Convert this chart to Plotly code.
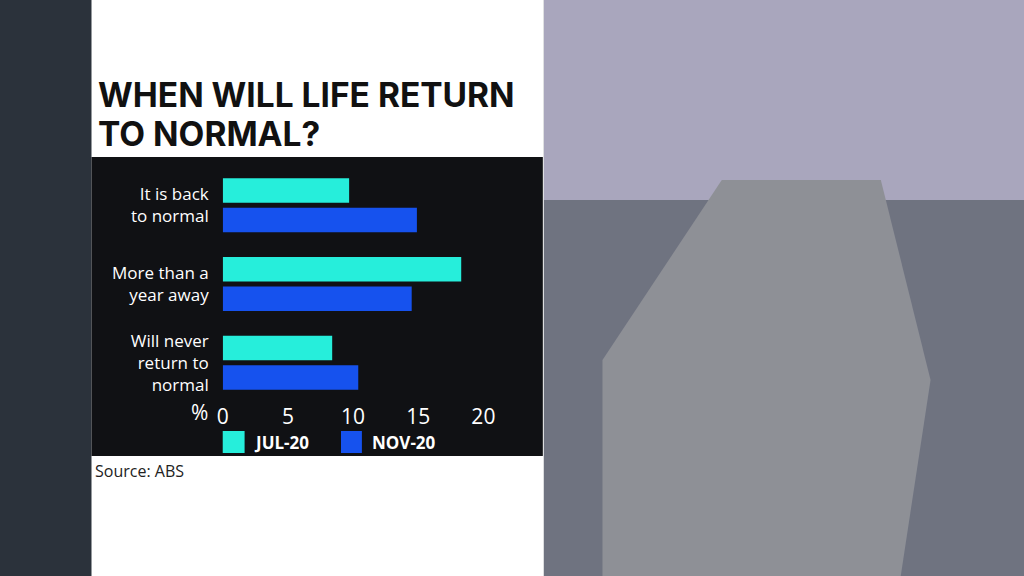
import plotly.graph_objects as go

categories = ["It is back<br>to normal", "More than a<br>year away", "Will never<br>return to<br>normal"]
jul20 = [9.7, 18.3, 8.4]
nov20 = [14.9, 14.5, 10.4]
xticks = [0, 5, 10, 15, 20]

W, H = 1024, 576
def px(x): return x / W
def py(y): return 1 - y / H

fig = go.Figure()
fig.add_bar(y=categories, x=jul20, orientation="h", name="JUL-20", marker=dict(color="#26EEDB", line_width=0), showlegend=False)
fig.add_bar(y=categories, x=nov20, orientation="h", name="NOV-20", marker=dict(color="#1652EE", line_width=0), showlegend=False)

shapes = [
    dict(type="rect", xref="paper", yref="paper", x0=0, x1=px(86), y0=0, y1=1, fillcolor="#2b323b", line_width=0, layer="below"),
    dict(type="rect", xref="paper", yref="paper", x0=px(541), x1=1, y0=0, y1=1, fillcolor="#6f7380", line_width=0, layer="below"),
    dict(type="rect", xref="paper", yref="paper", x0=px(541), x1=1, y0=py(200), y1=1, fillcolor="#a9a6bd", line_width=0, layer="below"),
    dict(type="path", xref="paper", yref="paper", path=f"M {px(600)},{py(576)} L {px(600)},{py(360)} L {px(720)},{py(180)} L {px(880)},{py(180)} L {px(930)},{py(380)} L {px(900)},{py(576)} Z", fillcolor="#8e9096", line_width=0, layer="below"),
    dict(type="rect", xref="paper", yref="paper", x0=px(86), x1=px(541), y0=0, y1=1, fillcolor="white", line_width=0, layer="below"),
    dict(type="rect", xref="paper", yref="paper", x0=px(86), x1=px(540), y0=py(456), y1=py(157), fillcolor="#101114", line_width=0, layer="below"),
    dict(type="rect", xref="paper", yref="paper", x0=px(218), x1=px(240), y0=py(453), y1=py(431), fillcolor="#26EEDB", line_width=0),
    dict(type="rect", xref="paper", yref="paper", x0=px(337), x1=px(358), y0=py(453), y1=py(431), fillcolor="#1652EE", line_width=0),
]
tfont = dict(family="Inter", size=33.5, color="#111111")
annotations = [
    dict(text="<b>WHEN WILL LIFE RETURN</b>", x=px(91), y=py(95), xref="paper", yref="paper",
         xanchor="left", yanchor="middle", showarrow=False, font=tfont),
    dict(text="<b>TO NORMAL?</b>", x=px(91), y=py(134), xref="paper", yref="paper",
         xanchor="left", yanchor="middle", showarrow=False, font=tfont),
    dict(text="%", x=px(205), y=py(412), xref="paper", yref="paper", xanchor="right", yanchor="middle",
         showarrow=False, font=dict(family="Open Sans", size=21, color="white")),
    dict(text="<b>JUL-20</b>", x=px(247), y=py(442), xref="paper", yref="paper", xanchor="left", yanchor="middle",
         showarrow=False, font=dict(family="Open Sans", size=17, color="white")),
    dict(text="<b>NOV-20</b>", x=px(366), y=py(442), xref="paper", yref="paper", xanchor="left", yanchor="middle",
         showarrow=False, font=dict(family="Open Sans", size=17, color="white")),
    dict(text="Source: ABS", x=px(88), y=py(471), xref="paper", yref="paper", xanchor="left", yanchor="middle",
         showarrow=False, font=dict(family="Open Sans", size=16, color="#222222")),
]

fig.update_layout(
    width=W, height=H, margin=dict(l=0, r=0, t=0, b=0),
    paper_bgcolor="#2b323b", plot_bgcolor="rgba(0,0,0,0)",
    barmode="group", bargap=0.25, bargroupgap=0.17,
    shapes=shapes, annotations=annotations,
    xaxis=dict(domain=[px(218), px(530)], range=[0, 23.8], tickvals=xticks, showgrid=False, zeroline=False,
               tickfont=dict(family="Open Sans", size=21, color="white"), ticks="", ticklabelstandoff=0, fixedrange=True),
    yaxis=dict(domain=[py(402), py(166)], autorange="reversed", showgrid=False,
               tickfont=dict(family="Open Sans", size=17, color="white"), ticks="", ticklabelstandoff=13),
)
fig.write_html("out.html", config={"displayModeBar": False},
               post_script="document.body.style.margin='0';document.body.style.overflow='hidden';")
